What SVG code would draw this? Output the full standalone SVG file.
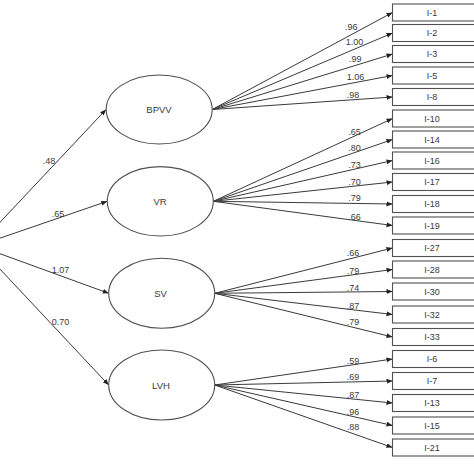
<svg xmlns="http://www.w3.org/2000/svg" width="474" height="474" viewBox="0 0 474 474">
<style>
.ln{stroke:#3a3a3a;stroke-width:1;fill:none}
.el{fill:#fff;stroke:#505050;stroke-width:1.1}
.bx{fill:#fff;stroke:#505050;stroke-width:1.1}
text{font-family:"Liberation Sans",Arial,sans-serif;fill:#3a3a3a;font-size:9px}
.c{text-anchor:middle}
.e{font-size:9.5px}
</style>
<defs>
<marker id="ah" markerUnits="userSpaceOnUse" markerWidth="7" markerHeight="6" refX="6" refY="2.5" orient="auto">
<path d="M0,0 L6,2.5 L0,5 z" fill="#222"/>
</marker>
</defs>
<rect width="474" height="474" fill="#fff"/>
<g id="connectors">
<line class="ln" x1="-22" y1="245.7" x2="106" y2="109.5" marker-end="url(#ah)"/>
<line class="ln" x1="-22" y1="245.7" x2="107.3" y2="201.3" marker-end="url(#ah)"/>
<line class="ln" x1="-22" y1="245.7" x2="108.7" y2="293.3" marker-end="url(#ah)"/>
<line class="ln" x1="-22" y1="245.7" x2="108.7" y2="385" marker-end="url(#ah)"/>
<line class="ln" x1="212.2" y1="109.5" x2="392.5" y2="12.5" marker-end="url(#ah)"/>
<line class="ln" x1="212.2" y1="109.5" x2="392.5" y2="33" marker-end="url(#ah)"/>
<line class="ln" x1="212.2" y1="109.5" x2="392.5" y2="54" marker-end="url(#ah)"/>
<line class="ln" x1="212.2" y1="109.5" x2="392.5" y2="75.5" marker-end="url(#ah)"/>
<line class="ln" x1="212.2" y1="109.5" x2="392.5" y2="97" marker-end="url(#ah)"/>
<line class="ln" x1="213.3" y1="201.3" x2="392.5" y2="118.5" marker-end="url(#ah)"/>
<line class="ln" x1="213.3" y1="201.3" x2="392.5" y2="139.5" marker-end="url(#ah)"/>
<line class="ln" x1="213.3" y1="201.3" x2="392.5" y2="160.5" marker-end="url(#ah)"/>
<line class="ln" x1="213.3" y1="201.3" x2="392.5" y2="182" marker-end="url(#ah)"/>
<line class="ln" x1="213.3" y1="201.3" x2="392.5" y2="204" marker-end="url(#ah)"/>
<line class="ln" x1="213.3" y1="201.3" x2="392.5" y2="225.5" marker-end="url(#ah)"/>
<line class="ln" x1="214.7" y1="293.3" x2="392.5" y2="248" marker-end="url(#ah)"/>
<line class="ln" x1="214.7" y1="293.3" x2="392.5" y2="269.5" marker-end="url(#ah)"/>
<line class="ln" x1="214.7" y1="293.3" x2="392.5" y2="291.5" marker-end="url(#ah)"/>
<line class="ln" x1="214.7" y1="293.3" x2="392.5" y2="314.5" marker-end="url(#ah)"/>
<line class="ln" x1="214.7" y1="293.3" x2="392.5" y2="337" marker-end="url(#ah)"/>
<line class="ln" x1="214.7" y1="385" x2="392.5" y2="359" marker-end="url(#ah)"/>
<line class="ln" x1="214.7" y1="385" x2="392.5" y2="381" marker-end="url(#ah)"/>
<line class="ln" x1="214.7" y1="385" x2="392.5" y2="403" marker-end="url(#ah)"/>
<line class="ln" x1="214.7" y1="385" x2="392.5" y2="425.5" marker-end="url(#ah)"/>
<line class="ln" x1="214.7" y1="385" x2="392.5" y2="447.5" marker-end="url(#ah)"/>
<text x="42.7" y="163.5">.48</text>
<text x="51.7" y="216.5">.65</text>
<text x="51.7" y="272.5">1.07</text>
<text x="51.7" y="325">0.70</text>
<text x="345" y="29.5">.96</text>
<text x="345.7" y="45">1.00</text>
<text x="349" y="62">.99</text>
<text x="346.7" y="80">1.06</text>
<text x="346.7" y="98">.98</text>
<text x="348.3" y="134.5">.65</text>
<text x="348.3" y="151">.80</text>
<text x="348.3" y="167.5">.73</text>
<text x="348.3" y="185">.70</text>
<text x="348.3" y="201">.79</text>
<text x="348.3" y="219.5">.66</text>
<text x="346.7" y="256">.66</text>
<text x="346.7" y="273.5">.79</text>
<text x="346.7" y="291">.74</text>
<text x="346.7" y="308.5">.87</text>
<text x="346.7" y="325">.79</text>
<text x="346.7" y="363.5">.59</text>
<text x="346.7" y="380">.69</text>
<text x="346.7" y="397.5">.87</text>
<text x="346.7" y="414.5">.96</text>
<text x="346.7" y="430">.88</text>
</g>
<g id="BPVV"><ellipse class="el" cx="159.2" cy="109.5" rx="53" ry="34.5"/><text class="c e" x="159" y="113">BPVV</text></g>
<g id="VR"><ellipse class="el" cx="160.3" cy="201.3" rx="53" ry="34.7"/><text class="c e" x="160" y="204.8">VR</text></g>
<g id="SV"><ellipse class="el" cx="161.7" cy="293.3" rx="53" ry="35"/><text class="c e" x="160.5" y="296.8">SV</text></g>
<g id="LVH"><ellipse class="el" cx="161.7" cy="385" rx="53" ry="35"/><text class="c e" x="161" y="388.5">LVH</text></g>
<g id="I-1"><rect class="bx" x="392.5" y="4" width="84" height="17"/><text class="c" x="432" y="15.7">I-1</text></g>
<g id="I-2"><rect class="bx" x="392.5" y="24.5" width="84" height="17"/><text class="c" x="432" y="36.2">I-2</text></g>
<g id="I-3"><rect class="bx" x="392.5" y="45.5" width="84" height="17"/><text class="c" x="432" y="57.2">I-3</text></g>
<g id="I-5"><rect class="bx" x="392.5" y="67" width="84" height="17"/><text class="c" x="432" y="78.7">I-5</text></g>
<g id="I-8"><rect class="bx" x="392.5" y="88.5" width="84" height="17"/><text class="c" x="432" y="100.2">I-8</text></g>
<g id="I-10"><rect class="bx" x="392.5" y="110" width="84" height="17"/><text class="c" x="432" y="121.7">I-10</text></g>
<g id="I-14"><rect class="bx" x="392.5" y="131" width="84" height="17"/><text class="c" x="432" y="142.7">I-14</text></g>
<g id="I-16"><rect class="bx" x="392.5" y="152" width="84" height="17"/><text class="c" x="432" y="163.7">I-16</text></g>
<g id="I-17"><rect class="bx" x="392.5" y="173.5" width="84" height="17"/><text class="c" x="432" y="185.2">I-17</text></g>
<g id="I-18"><rect class="bx" x="392.5" y="195.5" width="84" height="17"/><text class="c" x="432" y="207.2">I-18</text></g>
<g id="I-19"><rect class="bx" x="392.5" y="217" width="84" height="17"/><text class="c" x="432" y="228.7">I-19</text></g>
<g id="I-27"><rect class="bx" x="392.5" y="239.5" width="84" height="17"/><text class="c" x="432" y="251.2">I-27</text></g>
<g id="I-28"><rect class="bx" x="392.5" y="261" width="84" height="17"/><text class="c" x="432" y="272.7">I-28</text></g>
<g id="I-30"><rect class="bx" x="392.5" y="283" width="84" height="17"/><text class="c" x="432" y="294.7">I-30</text></g>
<g id="I-32"><rect class="bx" x="392.5" y="306" width="84" height="17"/><text class="c" x="432" y="317.7">I-32</text></g>
<g id="I-33"><rect class="bx" x="392.5" y="328.5" width="84" height="17"/><text class="c" x="432" y="340.2">I-33</text></g>
<g id="I-6"><rect class="bx" x="392.5" y="350.5" width="84" height="17"/><text class="c" x="432" y="362.2">I-6</text></g>
<g id="I-7"><rect class="bx" x="392.5" y="372.5" width="84" height="17"/><text class="c" x="432" y="384.2">I-7</text></g>
<g id="I-13"><rect class="bx" x="392.5" y="394.5" width="84" height="17"/><text class="c" x="432" y="406.2">I-13</text></g>
<g id="I-15"><rect class="bx" x="392.5" y="417" width="84" height="17"/><text class="c" x="432" y="428.7">I-15</text></g>
<g id="I-21"><rect class="bx" x="392.5" y="439" width="84" height="17"/><text class="c" x="432" y="450.7">I-21</text></g>
</svg>
